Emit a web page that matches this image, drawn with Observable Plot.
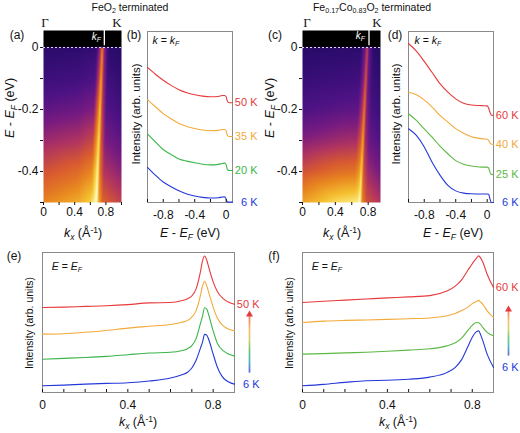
<!DOCTYPE html>
<html><head><meta charset="utf-8">
<script src="https://cdn.jsdelivr.net/npm/d3@7"></script>
<script src="https://cdn.jsdelivr.net/npm/@observablehq/plot@0.6"></script>
<style>
body{margin:0;background:#fff;}
#fig{position:relative;width:520px;height:433px;overflow:hidden;font-family:"Liberation Sans",Arial,sans-serif;color:#111;background:#fff;}
#fig svg{position:absolute;left:0;top:0;background:transparent;overflow:visible;}
.t{position:absolute;white-space:nowrap;line-height:1;}
.t sub,.t sup{font-size:68%;line-height:0;position:relative;vertical-align:baseline;}
.t sub{top:0.32em}.t sup{top:-0.45em}
</style></head><body><div id="fig"></div>
<script>
// ---------------- data ----------------
// ARPES maps: rows of energy, band position and intensity (0..1) at reference k positions
const mapE = [0, -0.1, -0.2, -0.3, -0.4, -0.5];
const aBand  = [0.755, 0.74, 0.725, 0.71, 0.695, 0.68];
const aPeak  = [0.72, 0.80, 0.86, 0.92, 0.97, 1.00];
const aShL   = [0.50, 0.58, 0.68, 0.78, 0.87, 0.95];
const aNearL = [0.24, 0.32, 0.43, 0.57, 0.72, 0.87];
const aMid   = [0.22, 0.29, 0.39, 0.52, 0.66, 0.80];
const aLeft  = [0.21, 0.27, 0.36, 0.48, 0.60, 0.72];
const aShR   = [0.45, 0.50, 0.56, 0.63, 0.70, 0.80];
const aNearR = [0.22, 0.28, 0.34, 0.42, 0.52, 0.64];
const aRight = [0.20, 0.24, 0.29, 0.36, 0.45, 0.56];
const aKF = [0.78];

const cBand  = [0.79, 0.772, 0.754, 0.736, 0.718, 0.70];
const cPeak  = [0.56, 0.62, 0.70, 0.80, 0.90, 1.00];
const cShL   = [0.40, 0.45, 0.52, 0.62, 0.76, 0.94];
const cNearL = [0.22, 0.28, 0.36, 0.50, 0.68, 0.92];
const cMid   = [0.21, 0.27, 0.35, 0.49, 0.67, 0.90];
const cLeft  = [0.20, 0.25, 0.32, 0.44, 0.60, 0.78];
const cShR   = [0.35, 0.39, 0.44, 0.50, 0.60, 0.72];
const cNearR = [0.21, 0.26, 0.31, 0.38, 0.48, 0.60];
const cRight = [0.20, 0.23, 0.27, 0.33, 0.41, 0.52];
const cKF = [0.81];

const mapTicksY = [0, -0.1, -0.2, -0.3, -0.4, -0.5];
const mapLabelsY = [0, -0.2, -0.4];
const mapTicksX = [0, 0.2, 0.4, 0.6, 0.8, 1.0];
const mapLabelsX = [0, 0.4, 0.8];

// EDCs at k = kF (panel b)
const bE  = [-1.0,-0.9,-0.8,-0.7,-0.6,-0.5,-0.4,-0.3,-0.2,-0.1,-0.05,-0.02,0,0.01,0.02,0.04,0.08];
const b50 = [7.9,7.5,7.15,6.85,6.6,6.42,6.3,6.22,6.18,6.2,6.26,6.26,6.18,6.0,5.88,5.83,5.83];
const b35 = [6.02,5.6,5.2,4.9,4.62,4.45,4.33,4.24,4.2,4.22,4.27,4.27,4.18,4.0,3.9,3.86,3.86];
const b20 = [4.02,3.55,3.1,2.8,2.55,2.42,2.32,2.24,2.2,2.23,2.28,2.3,2.2,2.0,1.9,1.87,1.87];
const b6  = [2.06,1.6,1.2,0.92,0.68,0.5,0.38,0.3,0.26,0.28,0.32,0.33,0.2,0.05,0.02,0.02,0.02];
const bTemps = ["50 K", "35 K", "20 K", "6 K"];

// EDCs at k = kF (panel d)
const dE  = [-1.0,-0.9,-0.8,-0.7,-0.6,-0.5,-0.4,-0.3,-0.2,-0.1,-0.05,0,0.01,0.02,0.03,0.05,0.08];
const d60 = [9.3,8.85,8.25,7.6,6.95,6.45,6.06,5.8,5.7,5.67,5.66,5.65,5.6,5.5,5.35,5.12,5.09];
const d40 = [6.45,6.3,6.0,5.58,5.1,4.7,4.32,4.05,3.85,3.75,3.72,3.7,3.68,3.62,3.52,3.42,3.39];
const d25 = [5.19,4.8,4.3,3.82,3.3,2.85,2.45,2.24,2.13,2.08,2.07,2.07,2.05,2.0,1.85,1.65,1.62];
const d6  = [4.31,3.92,3.25,2.35,1.6,1.0,0.68,0.55,0.51,0.5,0.5,0.5,0.5,0.48,0.3,0.02,0.0];
const dTemps = ["60 K", "40 K", "25 K", "6 K"];
const edcTicks = [-1.0, -0.8, -0.6, -0.4, -0.2, 0];
const edcLabels = [-0.8, -0.4, 0];

// MDCs at E = EF (panel e)
const eK  = [0,0.1,0.2,0.3,0.4,0.5,0.6,0.65,0.68,0.7,0.72,0.74,0.75,0.76,0.77,0.78,0.8,0.82,0.85,0.9];
const e50 = [6.07,6.1,6.15,6.2,6.28,6.4,6.43,6.55,6.7,6.9,7.4,8.6,9.4,9.75,9.45,8.9,7.9,7.2,6.67,6.3];
const e35 = [4.17,4.2,4.3,4.43,4.6,4.73,4.86,5.0,5.15,5.38,5.85,6.9,7.6,7.95,7.62,7.1,6.1,5.3,4.72,4.4];
const e20 = [2.38,2.44,2.5,2.58,2.7,2.82,2.87,2.98,3.13,3.35,3.85,4.9,5.45,6.05,5.95,5.5,4.4,3.5,2.95,2.6];
const e6  = [0.48,0.53,0.6,0.65,0.7,0.82,1.03,1.25,1.45,1.75,2.3,3.15,3.6,4.15,4.1,3.75,2.74,1.8,1.0,0.6];

// MDCs at E = EF (panel f)
const fK  = [0,0.1,0.2,0.3,0.4,0.5,0.6,0.68,0.72,0.75,0.78,0.8,0.82,0.83,0.84,0.85,0.87,0.9];
const f60 = [6.43,6.52,6.6,6.68,6.76,6.83,6.92,7.25,7.6,8.05,8.75,9.2,9.6,9.76,9.6,9.3,8.45,7.5];
const f40 = [5.0,5.1,5.15,5.18,5.22,5.27,5.32,5.48,5.65,5.86,6.1,6.35,6.5,6.58,6.45,6.3,5.83,5.36];
const f25 = [2.74,2.78,2.83,2.88,2.95,3.03,3.12,3.33,3.55,3.88,4.45,4.8,5.0,4.98,4.85,4.64,4.3,4.05];
const f6  = [0.48,0.58,0.72,0.84,0.87,0.95,1.1,1.42,1.8,2.35,3.3,3.95,4.35,4.4,4.1,3.69,2.74,1.79];
const mdcTicks = [0, 0.1, 0.2, 0.3, 0.4, 0.5, 0.6, 0.7, 0.8];
const mdcLabels = [0, 0.4, 0.8];

// temperature legends
const eLegendT = [6, 50];
const fLegendT = [6, 60];

// ---------------- styles ----------------
const RED = "#e63a3c", ORANGE = "#f2aa3a", GREEN = "#3bb54a", GREEN2 = "#5cb844", BLUE = "#2438d8";
const heatStops = [0, 0.15, 0.22, 0.32, 0.42, 0.52, 0.62, 0.72, 0.84, 0.93, 1.0];
const heatColors = ["#000000","#1a0850","#2d0c6e","#4c1284","#7a1c80","#b03460","#d85a30","#e88520","#f5c030","#fcec80","#ffffff"];
const W = 520, H = 433;
const FONT = '"Liberation Sans", Arial, sans-serif';
const fig = document.getElementById("fig");
const fmt = d => `${d}`;
const baseStyle = {background: "transparent", overflow: "visible", fontFamily: FONT, fontSize: "12px", color: "#111"};
function frameM(l, t, r, b) { return {width: W, height: H, marginLeft: l, marginTop: t, marginRight: W - r, marginBottom: H - b, style: baseStyle}; }

function heatPoints(band, left, mid, nearL, shL, peak, shR, nearR, right, kmax) {
  const pts = [];
  const b0 = band[0];
  for (const k of [0, 0.45, b0 - 0.08, b0 - 0.025, b0, b0 + 0.025, b0 + 0.08, kmax]) {
    pts.push({k, E: 0.06, v: 0}, {k, E: 0.003, v: 0});
  }
  mapE.forEach((e, i) => {
    const b = band[i];
    pts.push({k: 0, E: e, v: left[i]}, {k: 0.45, E: e, v: mid[i]}, {k: b - 0.08, E: e, v: nearL[i]},
             {k: b - 0.025, E: e, v: shL[i]}, {k: b, E: e, v: peak[i]}, {k: b + 0.025, E: e, v: shR[i]},
             {k: b + 0.08, E: e, v: nearR[i]}, {k: kmax, E: e, v: right[i]});
  });
  return pts;
}

function heatPlot(pts, kmax, kF, box) {
  return Plot.plot({
    ...frameM(...box),
    x: {domain: [0, kmax]}, y: {domain: [-0.5, 0.055]},
    color: {type: "linear", domain: heatStops, range: heatColors},
    marks: [
      Plot.raster(pts, {x: "k", y: "E", fill: "v", interpolate: "barycentric", x1: 0, x2: kmax, y1: -0.5, y2: 0.055}),
      Plot.ruleY([0], {stroke: "#e6dcf0", strokeDasharray: "2,2"}),
      Plot.ruleX(kF, {y1: 0.006, y2: 0.055, stroke: "white", strokeWidth: 1.3}),
      Plot.axisY({ticks: mapTicksY, tickSize: 3, tickPadding: 2, fontSize: 12, label: null,
                  tickFormat: d => mapLabelsY.includes(d) ? fmt(d) : ""}),
      Plot.axisX({ticks: mapTicksX.filter(t => t <= kmax), tickSize: 3, tickPadding: 2, fontSize: 12, label: null,
                  tickFormat: d => mapLabelsX.includes(d) ? fmt(d) : ""})
    ]
  });
}

function curvePlot(xs, series, colors, temps, xdom, box, ticks, labels) {
  const marks = [Plot.frame({stroke: "#8a8a8a"})];
  series.forEach((vals, i) => {
    const rows = xs.map((x, j) => ({x, y: vals[j]}));
    marks.push(Plot.line(rows, {x: "x", y: "y", stroke: colors[i], strokeWidth: 1.1, curve: "monotone-x"}));
    if (temps[i]) marks.push(Plot.text([temps[i]], {x: xdom[1], y: vals[vals.length - 1], text: d => d, fill: colors[i],
      dx: 25, textAnchor: "end", fontSize: 11}));
  });
  marks.push(Plot.axisX({ticks, tickSize: 3, dy: -3, label: null, tickFormat: () => ""}));
  marks.push(Plot.axisX({ticks: labels, tickSize: 0, tickPadding: 8, fontSize: 12, label: null, tickFormat: fmt}));
  return Plot.plot({...frameM(...box), x: {domain: xdom}, y: {domain: [0, 10], axis: null}, marks});
}

function legendPlot(tRange, cx, yBottom, yTop, colorDomain) {
  const segs = d3.range(tRange[0], tRange[1] - 2, 0.5).map(t => ({t0: t, t1: t + 0.5}));
  return Plot.plot({
    width: W, height: H, marginLeft: cx - 5, marginRight: W - cx - 5, marginTop: yTop, marginBottom: H - yBottom,
    style: baseStyle, x: {domain: [-1, 1], axis: null}, y: {domain: tRange, axis: null},
    color: {type: "linear", domain: colorDomain, range: [BLUE, "#1aa0a0", GREEN, "#c8c040", ORANGE, RED]},
    marks: [
      Plot.link(segs, {x1: () => 0, x2: () => 0, y1: "t0", y2: "t1", stroke: "t0", strokeWidth: 1.6}),
      Plot.dot([tRange[1]], {x: () => 0, y: d => d, symbol: "triangle", r: 2.6, fill: RED, dy: 1})
    ]
  });
}

// ---------------- panels ----------------
fig.appendChild(heatPlot(heatPoints(aBand, aLeft, aMid, aNearL, aShL, aPeak, aShR, aNearR, aRight, 1.0), 1.0, aKF, [43, 30, 121, 202]));
fig.appendChild(heatPlot(heatPoints(cBand, cLeft, cMid, cNearL, cShL, cPeak, cShR, cNearR, cRight, 0.95), 0.95, cKF, [302, 30, 380, 202]));
fig.appendChild(curvePlot(bE, [b50, b35, b20, b6], [RED, ORANGE, GREEN, BLUE], bTemps, [-1.0, 0.08], [147, 31, 232, 202], edcTicks, edcLabels));
fig.appendChild(curvePlot(dE, [d60, d40, d25, d6], [RED, ORANGE, GREEN2, BLUE], dTemps, [-1.0, 0.08], [408, 31, 493, 202], edcTicks, edcLabels));
fig.appendChild(curvePlot(eK, [e50, e35, e20, e6], [RED, ORANGE, GREEN, BLUE], ["50 K", "", "", "6 K"], [0, 0.9], [42, 252, 234, 392], mdcTicks, mdcLabels));
fig.appendChild(curvePlot(fK, [f60, f40, f25, f6], [RED, ORANGE, GREEN2, BLUE], ["60 K", "", "", "6 K"], [0, 0.9], [302, 252, 493, 392], mdcTicks, mdcLabels));
fig.appendChild(legendPlot(eLegendT, 249, 372, 313, [6, 15, 22, 30, 38, 50]));
fig.appendChild(legendPlot(fLegendT, 508, 355, 308, [6, 17, 26, 36, 46, 60]));

// ---------------- text ----------------
function label(html, x, y, o = {}) {
  const d = document.createElement("div");
  d.className = "t";
  d.innerHTML = html;
  const a = o.anchor || "middle";
  const tx = a === "start" ? "0" : a === "end" ? "-100%" : "-50%";
  d.style.left = x + "px"; d.style.top = y + "px";
  d.style.fontSize = (o.size || 12) + "px";
  if (o.family) d.style.fontFamily = o.family;
  if (o.color) d.style.color = o.color;
  d.style.transform = `translate(${tx},-50%)` + (o.rotate ? " rotate(-90deg)" : "");
  fig.appendChild(d);
}
const SERIF = '"Liberation Serif", "DejaVu Serif", serif';
const eLabel = "<i>E</i> - <i>E<sub>F</sub></i> (eV)";
const kLabel = "<i>k<sub>x</sub></i> (Å<sup>-1</sup>)";
const intLabel = "Intensity (arb. units)";

label("FeO<sub>2</sub> terminated", 130, 7, {size: 10.5});
label("Fe<sub>0.17</sub>Co<sub>0.83</sub>O<sub>2</sub> terminated", 372, 7, {size: 10.5});
label("Γ", 45, 22, {size: 13, family: SERIF});
label("K", 117, 22, {size: 13, family: SERIF});
label("Γ", 307, 22, {size: 13, family: SERIF});
label("K", 377, 22, {size: 13, family: SERIF});
label("(a)", 17, 35); label("(b)", 134, 35); label("(c)", 275, 35); label("(d)", 395, 35);
label("(e)", 14, 256); label("(f)", 274, 256);
label("<i>k</i> = <i>k<sub>F</sub></i>", 166, 40, {size: 10.5});
label("<i>k</i> = <i>k<sub>F</sub></i>", 428, 40, {size: 10.5});
label("<i>E</i> = <i>E<sub>F</sub></i>", 67, 266, {size: 10.5});
label("<i>E</i> = <i>E<sub>F</sub></i>", 327, 266, {size: 10.5});
label("<i>k<sub>F</sub></i>", 101, 37, {size: 10, color: "#fff", anchor: "end"});
label("<i>k<sub>F</sub></i>", 365, 36, {size: 10, color: "#fff", anchor: "end"});
label(eLabel, 10, 108, {size: 12.5, rotate: true});
label(eLabel, 270, 108, {size: 12.5, rotate: true});
label(intLabel, 137, 114, {size: 11.5, rotate: true});
label(intLabel, 397, 114, {size: 11.5, rotate: true});
label(intLabel, 29, 323, {size: 10.5, rotate: true});
label(intLabel, 289, 323, {size: 10.5, rotate: true});
label(kLabel, 83, 233, {size: 12.5});
label(eLabel, 190, 233, {size: 12.5});
label(kLabel, 342, 233, {size: 12.5});
label(eLabel, 453, 233, {size: 12.5});
label(kLabel, 138, 422, {size: 12.5});
label(kLabel, 398, 422, {size: 12.5});
</script></body></html>
